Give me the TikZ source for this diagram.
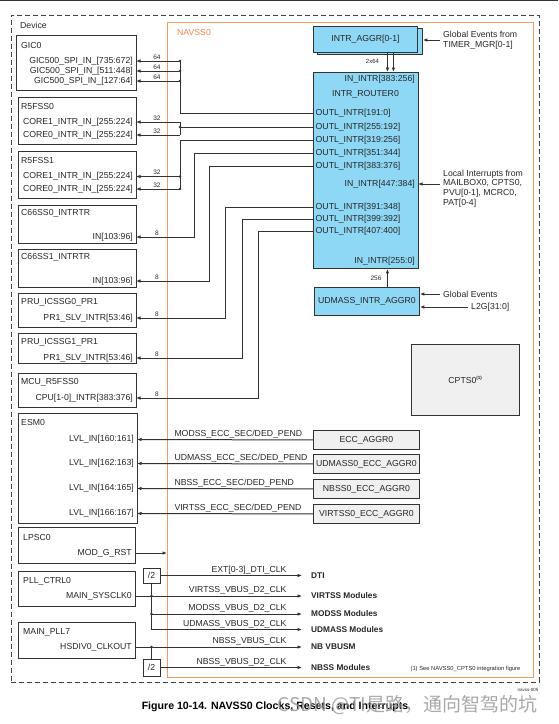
\documentclass[tikz,border=0pt]{standalone}
\usepackage{fontspec}
\setmainfont{Liberation Sans}
\newfontfamily\cjkfont{Noto Sans CJK SC}
\usetikzlibrary{arrows.meta,positioning}
\definecolor{navOrange}{RGB}{243,156,96}
\definecolor{navText}{RGB}{240,135,70}
\definecolor{blkBlue}{RGB}{142,216,246}
\definecolor{blkGray}{RGB}{240,240,240}
\definecolor{lineGray}{RGB}{50,50,50}

\begin{document}
\begin{tikzpicture}[x=1pt,y=-1pt,>={Latex[length=4.5pt,width=3.6pt]},
    every node/.style={font=\fontsize{8.7}{10}\selectfont,text=black!85}]
  \tikzstyle{boxD}=[draw=lineGray,line width=0.9pt,anchor=north west,inner sep=0pt,minimum width=118pt]
  \tikzstyle{boxB}=[boxD,fill=blkBlue,minimum width=105pt]
  \tikzstyle{boxG}=[boxD,fill=blkGray,minimum width=106pt,minimum height=19pt]
  \tikzstyle{ttl}=[anchor=base west,inner sep=0pt]
  \tikzstyle{portE}=[anchor=east,inner xsep=3pt,inner ysep=0pt]
  \tikzstyle{portW}=[anchor=west,inner xsep=2.5pt,inner ysep=0pt]
  \tikzstyle{wire}=[draw=lineGray,line width=1pt]
  \tikzstyle{wireA}=[wire,->]
  \tikzstyle{num}=[pos=1,anchor=south,xshift=21pt,inner sep=1pt,font=\fontsize{6.5}{7}\selectfont]
  \tikzstyle{eccL}=[pos=1,anchor=south west,xshift=36pt,inner sep=1pt]
  \tikzstyle{clkL}=[pos=1,anchor=south east,xshift=-14pt,inner sep=1pt]
  \tikzstyle{tgt}=[anchor=west,inner xsep=9pt,font=\bfseries\fontsize{8.3}{10}\selectfont]
  \tikzstyle{divB}=[draw=lineGray,line width=0.9pt,fill=white,minimum width=17pt,minimum height=15pt,inner sep=0pt]
  \tikzstyle{dot}=[fill=lineGray]

  \useasboundingbox (0,0) rectangle (558,724);
  \draw[line width=1.2pt,black!80] (0,0.6) -- (558,0.6);

  \node[draw=black!75,line width=0.9pt,dash pattern=on 5pt off 3pt,anchor=north west,
        minimum width=528pt,minimum height=667pt] (dev) at (11,15) {};
  \node[ttl] at ([shift={(9,13)}]dev.north west) {Device};
  \node[draw=navOrange,line width=0.9pt,anchor=north west,
        minimum width=366pt,minimum height=655pt] (nav) at (167,22) {};
  \node[ttl,text=navText] at ([shift={(10,13)}]nav.north west) {NAVSS0};

  \node[boxD,minimum width=120pt,minimum height=55pt] (gic) at (16,35) {};
  \node[ttl] at ([shift={(5,13)}]gic.north west) {GIC0};
  \node[portE] (gp1) at (136,61) {GIC500\_SPI\_IN\_[735:672]};
  \node[portE] (gp2) at (136,71) {GIC500\_SPI\_IN\_[511:448]};
  \node[portE] (gp3) at (136,81) {GIC500\_SPI\_IN\_[127:64]};

  \node[boxD,minimum height=47pt] (r5a) at (18,97) {};
  \node[ttl] at ([shift={(3,12.5)}]r5a.north west) {R5FSS0};
  \node[portE] (r0p1) at (136,122) {CORE1\_INTR\_IN\_[255:224]};
  \node[portE] (r0p2) at (136,135) {CORE0\_INTR\_IN\_[255:224]};

  \node[boxD,minimum height=47pt] (r5b) at (18,151) {};
  \node[ttl] at ([shift={(3,12.5)}]r5b.north west) {R5FSS1};
  \node[portE] (r1p1) at (136,176.5) {CORE1\_INTR\_IN\_[255:224]};
  \node[portE] (r1p2) at (136,189) {CORE0\_INTR\_IN\_[255:224]};

  \node[boxD,minimum height=38pt] (c66a) at (18,205) {};
  \node[ttl] at ([shift={(3,10)}]c66a.north west) {C66SS0\_INTRTR};
  \node[portE] (c0p) at (136,237) {IN[103:96]};

  \node[boxD,minimum height=38pt] (c66b) at (18,249) {};
  \node[ttl] at ([shift={(3,10.5)}]c66b.north west) {C66SS1\_INTRTR};
  \node[portE] (c1p) at (136,281) {IN[103:96]};

  \node[boxD,minimum height=34pt] (pru0) at (18,293) {};
  \node[ttl] at ([shift={(3,11)}]pru0.north west) {PRU\_ICSSG0\_PR1};
  \node[portE] (p0p) at (136,318) {PR1\_SLV\_INTR[53:46]};

  \node[boxD,minimum height=30pt] (pru1) at (18,333) {};
  \node[ttl] at ([shift={(3,11)}]pru1.north west) {PRU\_ICSSG1\_PR1};
  \node[portE] (p1p) at (136,358) {PR1\_SLV\_INTR[53:46]};

  \node[boxD,minimum height=34pt] (mcu) at (18,373) {};
  \node[ttl] at ([shift={(3,11)}]mcu.north west) {MCU\_R5FSS0};
  \node[portE] (mcp) at (136,398) {CPU[1-0]\_INTR[383:376]};

  \node[boxD,minimum width=119pt,minimum height=110pt] (esm) at (18,413) {};
  \node[ttl] at ([shift={(3,12)}]esm.north west) {ESM0};
  \node[portE] (e1) at (137,439.5) {LVL\_IN[160:161]};
  \node[portE] (e2) at (137,463.5) {LVL\_IN[162:163]};
  \node[portE] (e3) at (137,488.5) {LVL\_IN[164:165]};
  \node[portE] (e4) at (137,513.5) {LVL\_IN[166:167]};

  \node[boxD,minimum width=117pt,minimum height=36pt] (lpsc) at (18,527) {};
  \node[ttl] at ([shift={(5,13)}]lpsc.north west) {LPSC0};
  \node[portE] (rst) at (135,553) {MOD\_G\_RST};

  \node[boxD,minimum width=117pt,minimum height=35pt] (pllc) at (18,571) {};
  \node[ttl] at ([shift={(5,12.5)}]pllc.north west) {PLL\_CTRL0};
  \node[portE] (sys) at (135,596) {MAIN\_SYSCLK0};

  \node[boxD,minimum width=117pt,minimum height=36pt] (pll7) at (18,622) {};
  \node[ttl] at ([shift={(5,12.5)}]pll7.north west) {MAIN\_PLL7};
  \node[portE] (hsd) at (135,647) {HSDIV0\_CLKOUT};

  \node[boxB,minimum width=105pt,minimum height=26pt] (aggrB) at (317,28) {};
  \node[boxB,minimum width=104pt,minimum height=26pt] (aggr) at (313,26) {INTR\_AGGR[0-1]};
  \node[anchor=west,align=left,inner xsep=3pt] (gev) at (440,40) {Global Events from\\TIMER\_MGR[0-1]};

  \node[boxB,minimum height=196pt] (rtr) at (313,72) {};
  \node (rtrT) at (365.5,94) {INTR\_ROUTER0};
  \node[portE] (ia) at (418,79) {IN\_INTR[383:256]};
  \node[portW] (o1) at (313,113) {OUTL\_INTR[191:0]};
  \node[portW] (o2) at (313,127) {OUTL\_INTR[255:192]};
  \node[portW] (o3) at (313,140.5) {OUTL\_INTR[319:256]};
  \node[portW] (o4) at (313,153.5) {OUTL\_INTR[351:344]};
  \node[portW] (o5) at (313,166) {OUTL\_INTR[383:376]};
  \node[portE] (ib) at (418,184) {IN\_INTR[447:384]};
  \node[portW] (o6) at (313,207) {OUTL\_INTR[391:348]};
  \node[portW] (o7) at (313,219) {OUTL\_INTR[399:392]};
  \node[portW] (o8) at (313,231) {OUTL\_INTR[407:400]};
  \node[portE] (ic) at (418,261) {IN\_INTR[255:0]};
  \node[anchor=west,align=left,inner xsep=3pt,font=\fontsize{8.7}{9.7}\selectfont] (loc) at (440,188.5)
    {Local Interrupts from\\MAILBOX0, CPTS0,\\PVU[0-1], MCRC0,\\PAT[0-4]};

  \node[boxB,minimum height=28pt] (uda) at (314,287) {UDMASS\_INTR\_AGGR0};
  \node[anchor=west,inner xsep=3pt] (gev2) at (440,294) {Global Events};
  \node[anchor=west,inner xsep=3pt] (l2g) at (468,307) {L2G[31:0]};

  \node[boxG,minimum width=108pt,minimum height=71pt] (cpts) at (411,344)
    {CPTS0\textsuperscript{\bfseries\fontsize{4.5}{5}\selectfont(1)}};

  \node[boxG] (ecc1) at (313,430) {ECC\_AGGR0};
  \node[boxG] (ecc2) at (313,454) {UDMASS0\_ECC\_AGGR0};
  \node[boxG] (ecc3) at (313,479) {NBSS0\_ECC\_AGGR0};
  \node[boxG] (ecc4) at (313,504) {VIRTSS0\_ECC\_AGGR0};

  \node[divB] (div1) at (151.5,575.5) {/2};
  \node[divB,minimum height=17pt] (div2) at (151.5,667.5) {/2};
  \node[tgt] (dti) at (302,575.5) {DTI};
  \node[tgt] (vir) at (302,596) {VIRTSS Modules};
  \node[tgt] (mod) at (302,614) {MODSS Modules};
  \node[tgt] (udm) at (302,629.5) {UDMASS Modules};
  \node[tgt] (nbv) at (302,647) {NB VBUSM};
  \node[tgt] (nbm) at (302,667.5) {NBSS Modules};

  \coordinate (bus) at (180,0);
  \draw[wire] (o1.west) -| (bus |- gp1.east);
  \foreach \p in {gp1,gp2,gp3} {
    \draw[wireA] (bus |- \p.east) -- node[num] {64} (\p.east);
    \fill[dot] (bus |- \p.east) circle[radius=1.3pt];
  }
  \draw[wire] (bus |- r0p1.east) -- (bus |- r0p2.east);
  \draw[wire] (o2.west) -- (bus |- o2.west);
  \fill[dot] (bus |- o2.west) circle[radius=1.3pt];
  \foreach \p in {r0p1,r0p2}
    \draw[wireA] (bus |- \p.east) -- node[num] {32} (\p.east);
  \draw[wire] (o3.west) -| (bus |- r1p2.east);
  \foreach \p in {r1p1,r1p2} {
    \draw[wireA] (bus |- \p.east) -- node[num] {32} (\p.east);
    \fill[dot] (bus |- \p.east) circle[radius=1.3pt];
  }
  \foreach \o/\p/\dx in {o4/c0p/14,o5/c1p/29,o6/p0p/45,o7/p1p/62,o8/mcp/78}
    \draw[wireA] (\o.west) -| ([xshift=\dx pt]bus |- \p.east) -- node[num] {8} (\p.east);

  \draw[wireA] (gev.west) -- (aggrB.east |- gev.west);
  \draw[wireA] ([xshift=22pt]aggr.south) -- node[left=8pt,pos=0.45,inner sep=0pt,font=\fontsize{6}{7}\selectfont] {2x64}
    ([xshift=22pt]aggr.south |- rtr.north);
  \draw[wireA] ([xshift=28pt]aggr.south) -- ([xshift=28pt]aggr.south |- rtr.north);
  \draw[wireA] (loc.west |- ib.east) -- (ib.east);
  \draw[wireA] ([xshift=20.5pt]uda.north) -- node[left=5.5pt,inner sep=0pt,font=\fontsize{6.5}{7}\selectfont] {256}
    ([xshift=20.5pt]uda.north |- rtr.south);
  \draw[wireA] (gev2.west) -- (uda.east |- gev2.west);
  \draw[wireA] (l2g.west) -- (uda.east |- l2g.west);

  \foreach \c/\e/\t in {ecc1/e1/MODSS,ecc2/e2/UDMASS,ecc3/e3/NBSS,ecc4/e4/VIRTSS}
    \draw[wireA] (\c.west) -- node[eccL] {\t\_ECC\_SEC/DED\_PEND} (\e.east);

  \draw[wireA] (rst.east) -- (rst.east -| nav.west);
  \draw[wireA] (div1.east) -- node[clkL] {EXT[0-3]\_DTI\_CLK} (dti.west);
  \draw[wireA] (sys.east) -- node[clkL] {VIRTSS\_VBUS\_D2\_CLK} (vir.west);
  \draw[wire] (div1.south) -- (div1.south |- udm.west);
  \draw[wireA] (div1.south |- mod.west) -- node[clkL] {MODSS\_VBUS\_D2\_CLK} (mod.west);
  \draw[wireA] (div1.south |- udm.west) -- node[clkL] {UDMASS\_VBUS\_D2\_CLK} (udm.west);
  \fill[dot] (div1.south |- sys.east) circle[radius=1.3pt];
  \fill[dot] (div1.south |- mod.west) circle[radius=1.3pt];
  \draw[wireA] (hsd.east) -- node[clkL] {NBSS\_VBUS\_CLK} (nbv.west);
  \draw[wire] (div2.north |- hsd.east) -- (div2.north);
  \fill[dot] (div2.north |- hsd.east) circle[radius=1.3pt];
  \draw[wireA] (div2.east) -- node[clkL] {NBSS\_VBUS\_D2\_CLK} (nbm.west);

  \node[font=\fontsize{5.8}{7}\selectfont] (fnote) at (465.5,669) {(1) See NAVSS0\_CPTS0 integration figure};
  \node[font=\fontsize{4.5}{5}\selectfont] (fid) at (528,690) {navss-005};
  \node[font=\bfseries\fontsize{10.6}{12}\selectfont,text=black] (cap) at (275,707)
    {Figure 10-14. NAVSS0 Clocks, Resets, and Interrupts};
  \node[anchor=west,text=black!40,opacity=0.85,font=\cjkfont\fontsize{19}{20}\selectfont] (wmark) at (274,705)
    {CSDN @TI是路，通向智驾的坑};
\end{tikzpicture}
\end{document}
